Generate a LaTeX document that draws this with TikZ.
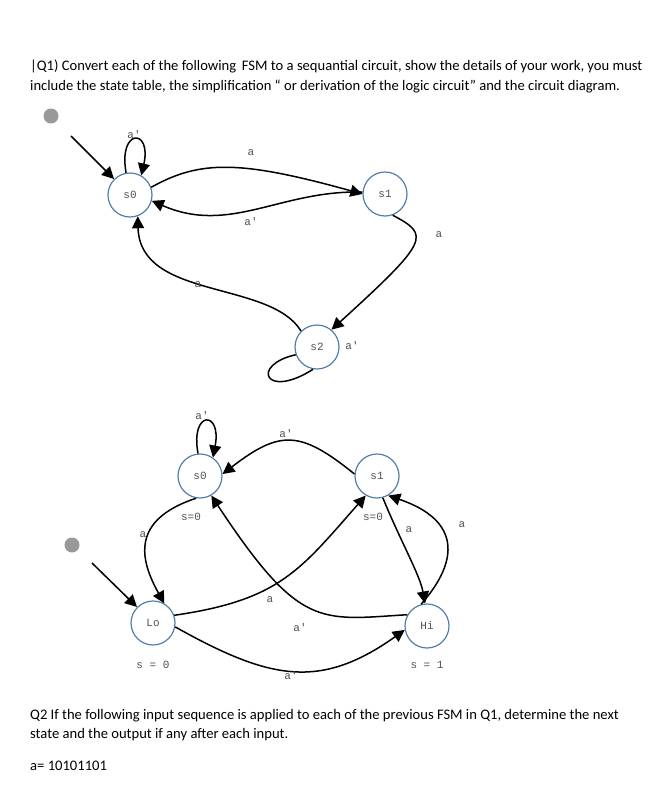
\documentclass[tikz,border=0pt]{standalone}
\usepackage{fontspec}
\setmainfont{Carlito}
\newfontfamily\lbl{Liberation Mono}
\usetikzlibrary{arrows.meta}
\definecolor{stb}{RGB}{84,125,170}
\definecolor{lg}{RGB}{80,80,80}
\tikzset{
 st/.style={circle,draw=stb,line width=1.2pt,minimum size=44pt,inner sep=0pt,font=\lbl\fontsize{11}{11}\selectfont,text=lg},
 tr/.style={line width=1.5pt,-{Triangle[length=12pt,width=12pt]}},
 tl/.style={font=\lbl\fontsize{11}{11}\selectfont,text=lg},
 dot/.style={circle,fill=gray!80,inner sep=0pt,minimum size=15pt},
 txt/.style={font=\fontsize{14.6}{17}\selectfont,anchor=west,inner sep=0pt}
}
\begin{document}
\begin{tikzpicture}[x=1pt,y=-1pt]
\useasboundingbox (0,0) rectangle (649,792);
\node[txt] (t1) at (30,66) {|Q1) Convert each of the following\, FSM to a sequantial circuit, show the details of your work, you must};
\node[txt] (t2) at (30,86) {include the state table, the simplification `` or derivation of the logic circuit'' and the circuit diagram.};
\node[txt] (t3) at (30,716) {Q2 If the following input sequence is applied to each of the previous FSM in Q1, determine the next};
\node[txt] (t4) at (30,735) {state and the output if any after each input.};
\node[txt] (t5) at (30,766) {a= 10101101};
% top FSM
\node[dot] (d1) at (51,116) {};
\node[st] (a0) at (130,195) {s0};
\node[st] (a1) at (385,194) {s1};
\node[st] (a2) at (317,347) {s2};
\coordinate (i1) at (71,136);
\draw[tr] (i1) -- (a0.135);
\draw[tr] (a0.100) .. controls (118,128) and (152,128) .. (a0.60);
\node[tl] at (134,135) {a'};
\draw[tr] (a0.20) .. controls (200,160) and (240,160) .. (a1.180);
\node[tl] at (251,153) {a};
\draw[tr] (a1.175) .. controls (280,190) and (230,235) .. (a0.345);
\node[tl] at (251,222) {a'};
\draw[tr] (a1.290) .. controls (430,235) and (430,240) .. (a2.50);
\node[tl] at (439,235) {a};
\draw[tr] (a2.135) .. controls (270,280) and (140,300) .. (a0.290);
\node[tl] at (198,285) {a};
\draw[line width=1.5pt] (a2.200) .. controls (250,365) and (265,400) .. (a2.260);
\node[tl] at (352,346) {a'};
% bottom FSM
\node[dot] (d2) at (72,545) {};
\node[st] (b0) at (200,476) {s0};
\node[st] (b1) at (377,476) {s1};
\node[st] (lo) at (153,623) {Lo};
\node[st] (hi) at (427,626) {Hi};
\node[tl] at (191,517) {s=0};
\node[tl] at (373,517) {s=0};
\node[tl] at (153,665) {s = 0};
\node[tl] at (427,665) {s = 1};
\coordinate (i2) at (92,563);
\draw[tr] (i2) -- (lo.135);
\draw[tr] (b0.95) .. controls (190,410) and (222,410) .. (b0.55);
\node[tl] at (202,416) {a'};
\draw[tr] (b1.175) .. controls (300,430) and (280,430) .. (b0.5);
\node[tl] at (286,434) {a'};
\draw[tr] (b0.260) .. controls (130,520) and (140,560) .. (lo.60);
\node[tl] at (143,535) {a};
\draw[tr] (lo.20) .. controls (280,600) and (300,570) .. (b1.240);
\node[tl] at (270,600) {a};
\draw[tr] (hi.150) .. controls (320,620) and (300,630) .. (b0.300);
\node[tl] at (300,628) {a'};
\draw[tr] (lo.350) .. controls (270,680) and (320,690) .. (hi.190);
\node[tl] at (291,676) {a'};
\draw[tr] (b1.285) .. controls (400,540) and (420,575) .. (hi.95);
\node[tl] at (409,530) {a};
\draw[tr] (hi.105) .. controls (460,560) and (460,520) .. (b1.300);
\node[tl] at (462,525) {a};
\end{tikzpicture}
\end{document}
